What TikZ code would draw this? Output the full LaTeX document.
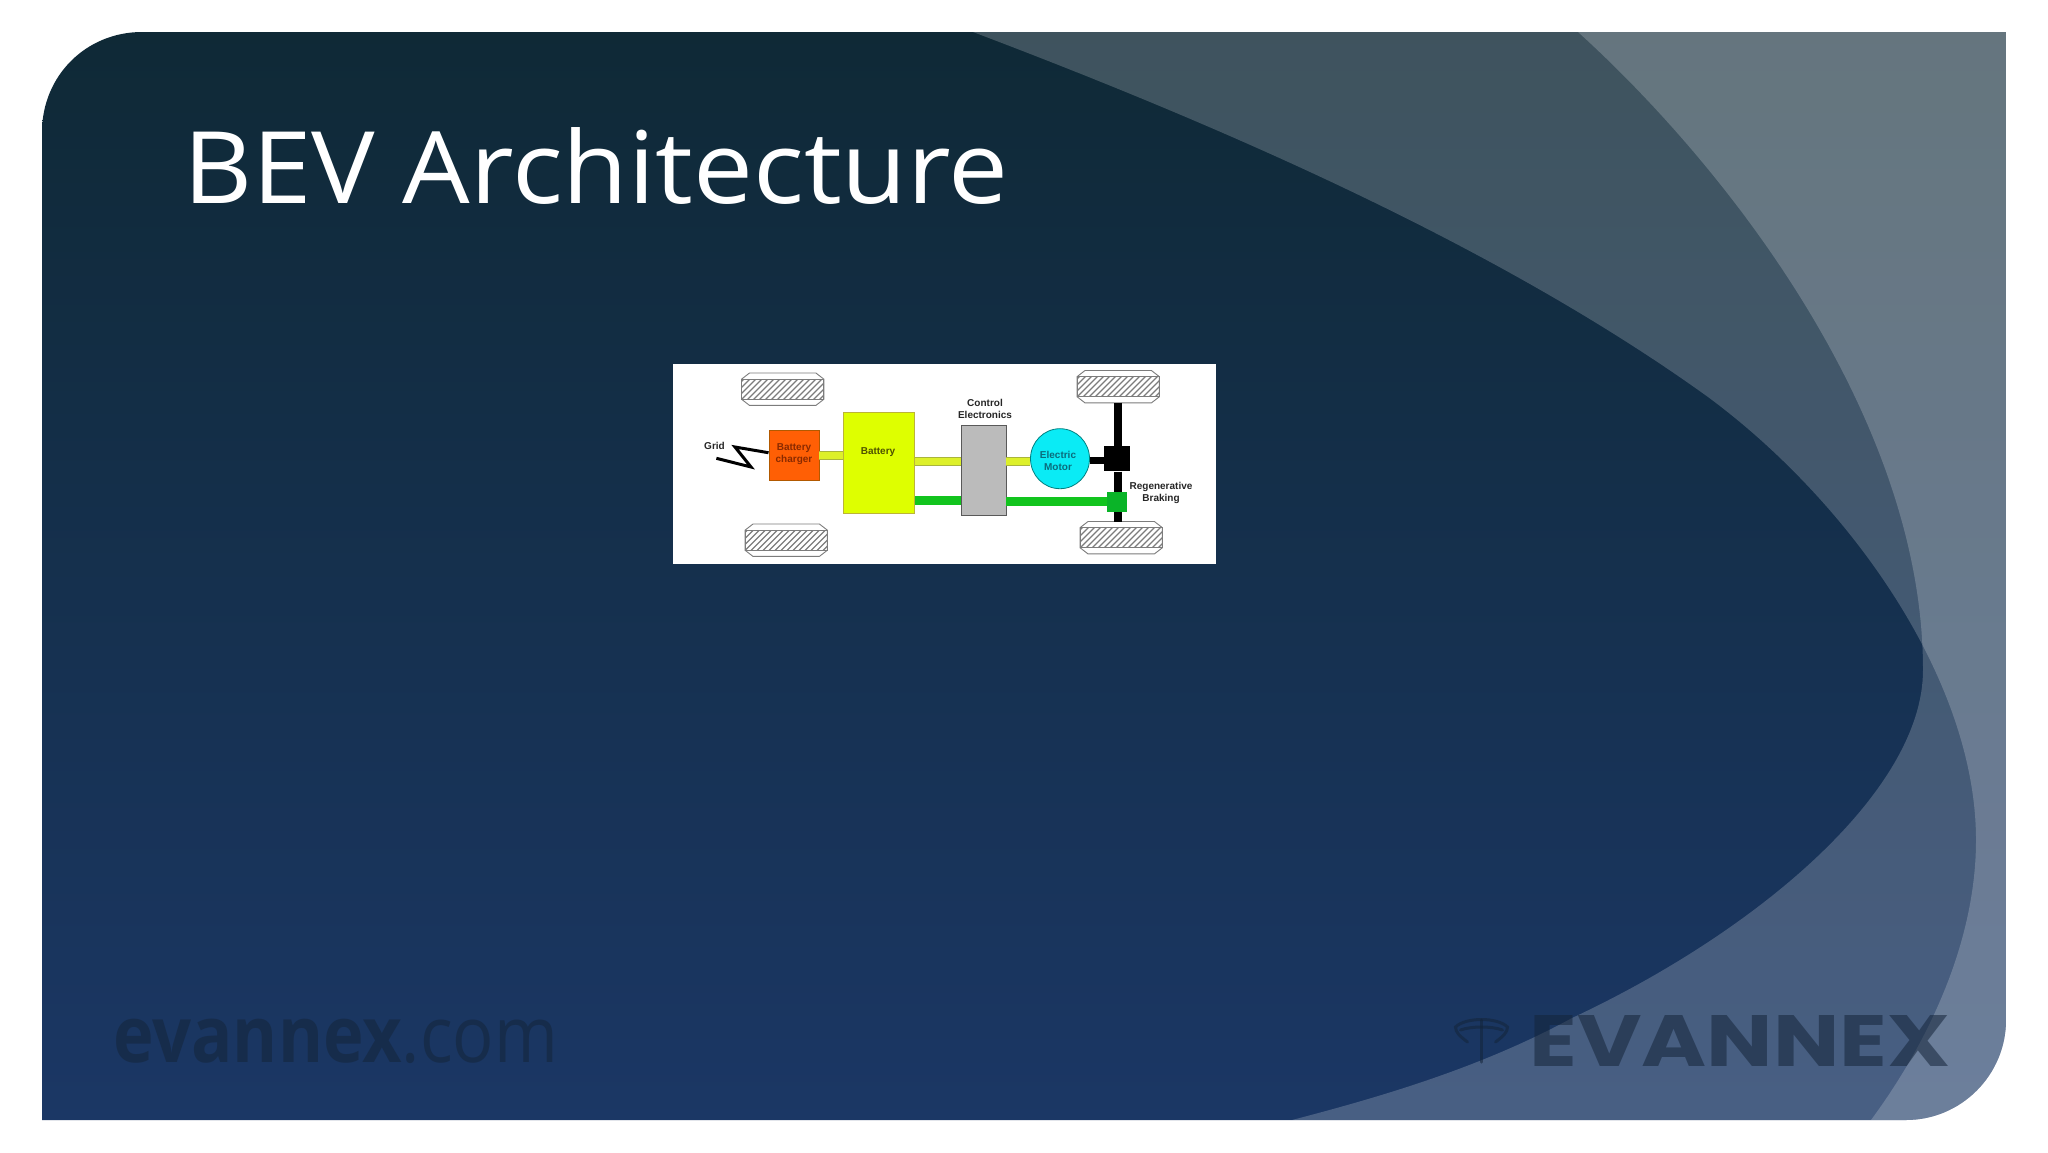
\documentclass[tikz,border=0pt]{standalone}
\usepackage{fontspec}
\setmainfont{Open Sans}
\newfontfamily\arialf{Liberation Sans}
\newfontfamily\logof{Poppins}
\usetikzlibrary{calc,shapes.geometric}
\definecolor{topdark}{HTML}{0F2936}
\definecolor{middark}{HTML}{132C46}
\definecolor{botdark}{HTML}{1B3765}
\definecolor{logoink}{HTML}{142439}
\definecolor{wirey}{HTML}{DDF02A}
\definecolor{wireedge}{HTML}{A9B53C}
\definecolor{wireg}{HTML}{12C41E}
\definecolor{wheelline}{HTML}{7C7C7C}
\definecolor{chargertext}{HTML}{8A2A00}
\definecolor{batterytext}{HTML}{4E5200}
\definecolor{motortext}{HTML}{0B6C7C}
\tikzset{
  lbl/.style={font=\arialf\bfseries\fontsize{10}{12}\selectfont,align=center,inner sep=0pt,text=#1},
  lbl/.default=black!85,
  partbox/.style={draw=#1!70!black,line width=.8pt,inner sep=0pt,anchor=north west},
  yellowwire/.style={line width=9pt,wireedge},
  yellowcore/.style={line width=6.6pt,wirey},
  greenwire/.style={line width=8.5pt,wireg},
  blackwire/.style={line width=7.5pt,black},
  logotext/.style={inner sep=0pt,text=logoink,text opacity=.55},
}
% name, left, top (wheel is 82 x 32)
\newcommand{\wheelat}[3]{%
  \node[inner sep=0pt,minimum width=82pt,minimum height=32pt,anchor=north west] (#1) at (#2,#3) {};
  \draw[wheelline,line width=.9pt,fill=white]
     ($(#1.west)+(0,-10)$) -- ($(#1.north west)+(8,0)$) -- ($(#1.north east)+(-8,0)$)
     -- ($(#1.east)+(0,-10)$) -- ($(#1.east)+(0,10)$) -- ($(#1.south east)+(-8,0)$)
     -- ($(#1.south west)+(8,0)$) -- ($(#1.west)+(0,10)$) -- cycle;
  \begin{scope}
    \clip ($(#1.north west)+(0,6)$) rectangle ($(#1.south east)+(0,-6)$);
    \foreach \k in {0,6,...,114}{
      \draw[wheelline,line width=1.2pt] ($(#1.south west)+(\k-24,0)$) -- ++(32,-32);
    }
  \end{scope}
  \draw[wheelline,line width=.9pt] ($(#1.north west)+(0,6)$) rectangle ($(#1.south east)+(0,-6)$);
}
\begin{document}
\begin{tikzpicture}[x=1pt,y=-1pt]
\useasboundingbox (0,0) rectangle (2048,1152);
\fill[white] (0,0) rectangle (2048,1152);
\begin{scope}
  \clip (42,132) .. controls (42,76) and (86,32) .. (142,32) -- (2006,32) -- (2006,1020)
     .. controls (2006,1075) and (1961,1120) .. (1906,1120) -- (42,1120) -- cycle;
  \shade[top color=topdark,middle color=middark,bottom color=botdark] (42,32) rectangle (2006,1120);
  \fill[white,opacity=.2] (973,32) .. controls (1200,118) and (1490,240) .. (1708,397)
     .. controls (1850,502) and (1976,680) .. (1976,840)
     .. controls (1976,940) and (1930,1040) .. (1871,1120)
     -- (2100,1120) -- (2100,32) -- cycle;
  \fill[white,opacity=.2] (1578,32) .. controls (1730,170) and (1923,420) .. (1923,670)
     .. controls (1923,790) and (1760,930) .. (1572,1018)
     .. controls (1480,1068) and (1380,1097) .. (1292,1120)
     -- (2100,1200) -- (2100,32) -- cycle;
\end{scope}

\node[anchor=base west,inner sep=0pt,text=white,font=\fontsize{100}{120}\selectfont] (title) at (183,203) {\scalebox{1.068}[1]{BEV Architecture}};

% footer logos
\node[logotext,anchor=base west,font=\fontsize{78}{90}\selectfont] (site) at (113,1062) {\scalebox{.88}[1]{\textbf{evannex}.com}};
\node[logotext,anchor=south west] (brand) at (1529,1067) {\resizebox{421pt}{51pt}{\logof\bfseries EVANNEX}};
\begin{scope}[logoink,opacity=.55,line width=3pt,line cap=round]
  \coordinate (ic) at (1481.5,1018);
  \draw ($(ic)+(0,2)$) -- ($(ic)+(0,44)$);
  \draw ($(ic)+(-14,24)$) .. controls ($(ic)+(-22,18)$) and ($(ic)+(-26,14)$) .. ($(ic)+(-26,9)$)
     .. controls ($(ic)+(-16,-1)$) and ($(ic)+(16,-1)$) .. ($(ic)+(26,9)$)
     .. controls ($(ic)+(26,14)$) and ($(ic)+(22,18)$) .. ($(ic)+(14,24)$);
  \draw ($(ic)+(-21,12)$) .. controls ($(ic)+(-10,8)$) and ($(ic)+(10,8)$) .. ($(ic)+(21,12)$);
\end{scope}

% diagram
\fill[white] (673,364) rectangle (1215.5,564);
\wheelat{wheelTL}{741.5}{373}
\wheelat{wheelTR}{1077}{370.5}
\wheelat{wheelBL}{745}{524}
\wheelat{wheelBR}{1080}{521.5}

\node[partbox=orange,fill={rgb,255:red,255;green,95;blue,5},minimum width=50pt,minimum height=50pt] (charger) at (768.5,429.5) {};
\node[partbox=yellow,fill={rgb,255:red,222;green,255;blue,0},minimum width=71pt,minimum height=101pt] (battery) at (843,412) {};
\node[partbox=gray,fill={rgb,255:red,187;green,187;blue,187},minimum width=45pt,minimum height=90.5pt] (control) at (960.5,424.5) {};
\node[draw=teal,line width=.8pt,ellipse,fill={rgb,255:red,10;green,235;blue,245},minimum width=59pt,minimum height=60pt,inner sep=0pt] (motor) at (1060,458.7) {};
\node[fill=black,inner sep=0pt,minimum width=25.5pt,minimum height=25.5pt,anchor=north west] (hub) at (1104,445.7) {};
\node[fill={rgb,255:red,10;green,180;blue,40},inner sep=0pt,minimum width=19.5pt,minimum height=20pt,anchor=north west] (regen) at (1107,492) {};

% connectors
\foreach \st in {yellowwire,yellowcore}{
  \draw[\st] (charger.east |- 0,455.6) -- (battery.west |- 0,455.6);
  \draw[\st] (battery.east |- 0,461.3) -- (control.west |- 0,461.3);
  \draw[\st] (control.east |- 0,461.3) -- (motor.west |- 0,461.3);
}
\draw[greenwire] (battery.east |- 0,500.7) -- (control.west |- 0,500.7);
\draw[greenwire] (control.east |- 0,501.7) -- (regen.west |- 0,501.7);
\draw[blackwire] (motor.east |- 0,460.5) -- (hub.west |- 0,460.5);
\draw[blackwire] (wheelTR.south |- 0,402.5) -- (hub.north -| wheelTR.south);
\draw[blackwire] (hub.south -| wheelTR.south) -- (regen.north -| wheelTR.south);
\draw[blackwire] (regen.south -| wheelTR.south) -- (wheelBR.north -| wheelTR.south);
\coordinate (gridend) at (716.4,458.3);
\draw[black,line width=3pt,line join=miter] (gridend) -- (751,467) -- (735,447) -- (charger.west |- 0,452.7);

% labels
\node[lbl] (gridlbl) at (714.5,446) {Grid};
\node[lbl=chargertext] (chargerlbl) at (794,454.5) {Battery\\charger};
\node[lbl=batterytext] (batterylbl) at (878,451.7) {Battery};
\node[lbl] (controllbl) at (985,409) {Control\\Electronics};
\node[lbl=motortext] (motorlbl) at (1058,460.5) {Electric\\Motor};
\node[lbl] (regenlbl) at (1161,492.7) {Regenerative\\Braking};
\end{tikzpicture}
\end{document}
